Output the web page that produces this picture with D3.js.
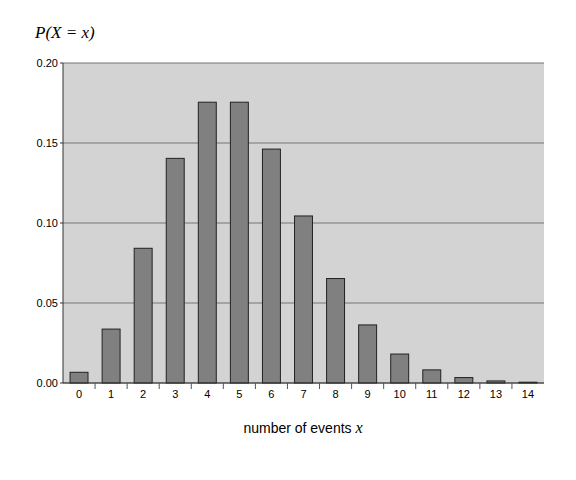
<!DOCTYPE html>
<html><head><meta charset="utf-8">
<script src="https://cdn.jsdelivr.net/npm/d3@7"></script>
<style>body{margin:0;background:#fff}</style></head>
<body><svg id="c" width="576" height="480"></svg>
<script>
const categories = ["0","1","2","3","4","5","6","7","8","9","10","11","12","13","14"];
const values = [0.0067,0.0337,0.0842,0.1404,0.1755,0.1755,0.1462,0.1044,0.0653,0.0363,0.0181,0.0082,0.0034,0.0013,0.0005];
const yTicks = [0,0.05,0.10,0.15,0.20];

const svg = d3.select("#c");
const L=63,R=544,T=63,B=383;
const x = d3.scaleBand().domain(categories).range([L,R]).paddingInner(0.44).paddingOuter(0.22);
const xb = d3.scaleBand().domain(categories).range([L,R]);
const y = d3.scaleLinear().domain([0,0.2]).range([B,T]);

svg.append("rect").attr("x",L).attr("y",T).attr("width",R-L).attr("height",B-T).attr("fill","#d3d3d3");
svg.selectAll(".g").data(yTicks).join("line").attr("x1",L).attr("x2",R)
  .attr("y1",d=>y(d)).attr("y2",d=>y(d)).attr("stroke","#777").attr("stroke-width",1.2);
svg.selectAll(".yl").data(yTicks).join("text").attr("x",L-5).attr("y",d=>y(d)+4)
  .attr("text-anchor","end").attr("font-family","Liberation Sans, Arial").attr("font-size",11)
  .text(d=>d.toFixed(2));
svg.selectAll(".yt").data(yTicks).join("line").attr("x1",L-3).attr("x2",L)
  .attr("y1",d=>y(d)).attr("y2",d=>y(d)).attr("stroke","#333");
svg.selectAll(".bar").data(values).join("rect")
  .attr("x",(d,i)=>x(categories[i])).attr("width",x.bandwidth())
  .attr("y",d=>y(d)).attr("height",d=>B-y(d))
  .attr("fill","#808080").attr("stroke","#222").attr("stroke-width",1);
svg.append("line").attr("x1",L).attr("x2",R).attr("y1",B).attr("y2",B).attr("stroke","#333");
svg.append("line").attr("x1",L).attr("x2",L).attr("y1",T).attr("y2",B).attr("stroke","#333");
svg.selectAll(".xt").data(categories.slice(1)).join("line")
  .attr("x1",d=>xb(d)).attr("x2",d=>xb(d)).attr("y1",B).attr("y2",B+6).attr("stroke","#555");
svg.selectAll(".xl").data(categories).join("text")
  .attr("x",d=>xb(d)+xb.bandwidth()/2).attr("y",B+15).attr("text-anchor","middle")
  .attr("font-family","Liberation Sans, Arial").attr("font-size",11).text(d=>d);
const xt = svg.append("text").attr("x",303).attr("y",433).attr("text-anchor","middle")
  .attr("font-family","Liberation Sans, Arial").attr("font-size",14);
xt.append("tspan").text("number of events ");
xt.append("tspan").attr("font-family","Liberation Serif, serif").attr("font-style","italic").attr("font-size",16).text("x");
svg.append("text").attr("x",35).attr("y",38).attr("font-family","Liberation Serif, serif")
  .attr("font-size",17).attr("font-style","italic").text("P(X = x)");
</script></body></html>
